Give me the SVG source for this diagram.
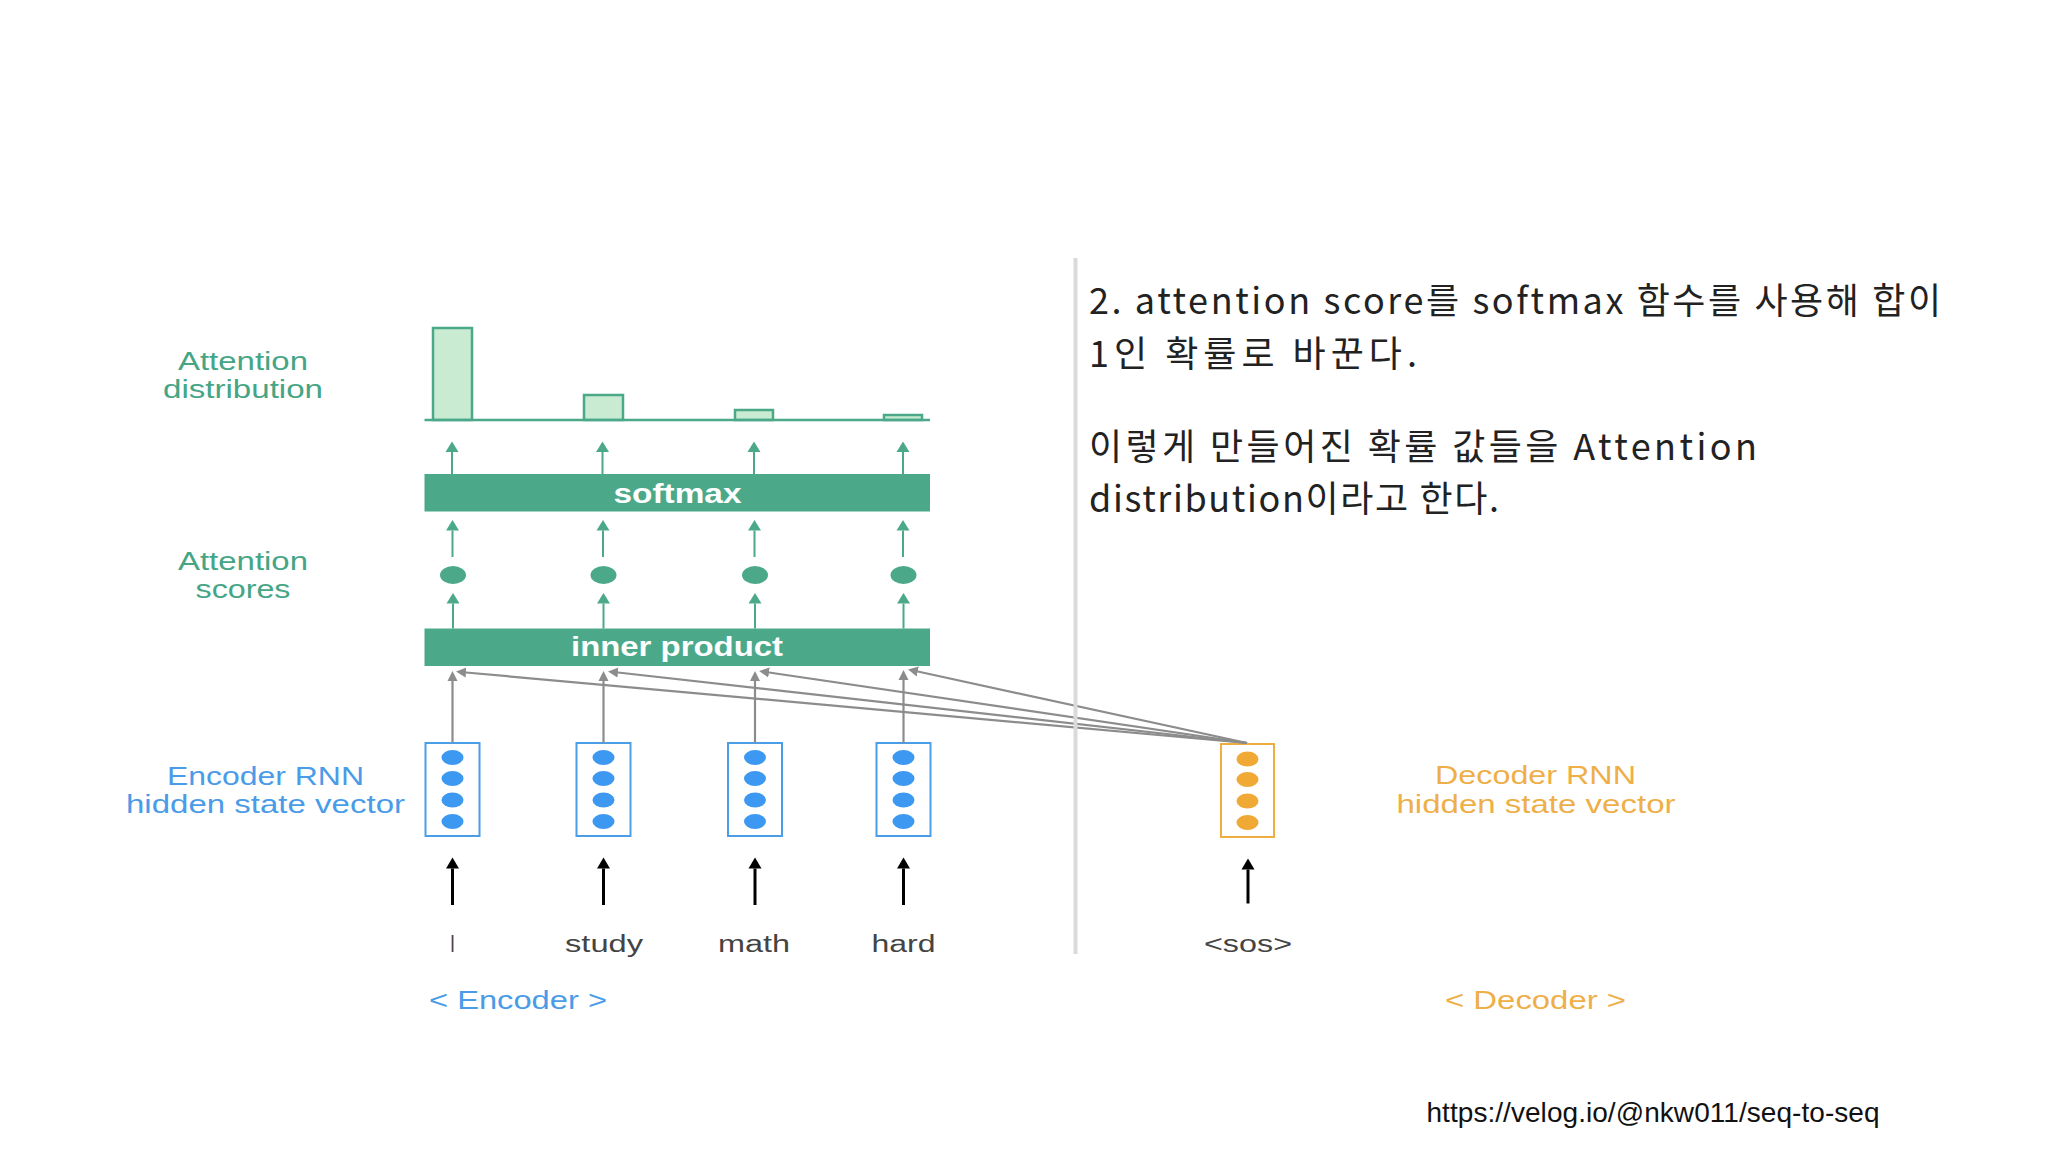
<svg xmlns="http://www.w3.org/2000/svg" width="2048" height="1152" viewBox="0 0 2048 1152">
<defs>
<style>
.lab{font-family:"Liberation Sans",Arial,sans-serif;text-anchor:middle}
.teal{fill:#45A584;font-size:25px}
.blue{fill:#4A9BE8;font-size:25px}
.orange{fill:#EFAF48;font-size:25px}
.word{fill:#444444;font-size:23px}
.band{fill:#4BA98A}
.bandtxt{font-family:"Liberation Sans",Arial,sans-serif;font-weight:bold;font-size:27px;fill:#ffffff;text-anchor:middle}
.bar{fill:#C8EBD2;stroke:#4BA98A;stroke-width:2.5}
.garrow{stroke:#4BA98A;stroke-width:2;fill:none;marker-end:url(#mg)}
.karrow{stroke:#000;stroke-width:3;fill:none;marker-end:url(#mk)}
.gray{stroke:#8C8C8C;stroke-width:2.2;fill:none;marker-end:url(#mgr)}
.ebox{fill:#fff;stroke:#4A9EE8;stroke-width:2}
.edot{fill:#3C98F0}
.dbox{fill:#fff;stroke:#EFAE42;stroke-width:2}
.ddot{fill:#F0A935}
.sdot{fill:#4BA98A}
.kr{font-family:"Noto Sans CJK KR","Noto Sans",sans-serif;font-size:36px;fill:#222222}
</style>
<marker id="mg" markerUnits="userSpaceOnUse" markerWidth="12" markerHeight="14" refX="0" refY="7" orient="auto"><path d="M0,0.5 L10.5,7 L0,13.5 z" fill="#4BA98A"/></marker>
<marker id="mk" markerUnits="userSpaceOnUse" markerWidth="12" markerHeight="14" refX="0" refY="7" orient="auto"><path d="M0,0.5 L11,7 L0,13.5 z" fill="#000"/></marker>
<marker id="mgr" markerUnits="userSpaceOnUse" markerWidth="12" markerHeight="12" refX="0" refY="6" orient="auto"><path d="M0,1 L10,6 L0,11 z" fill="#8C8C8C"/></marker>
</defs>
<rect width="2048" height="1152" fill="#ffffff"/>

<g id="left-labels">
<text class="lab teal" x="243" y="369.5" textLength="130" lengthAdjust="spacingAndGlyphs">Attention</text>
<text class="lab teal" x="243" y="398" textLength="160" lengthAdjust="spacingAndGlyphs">distribution</text>
<text class="lab teal" x="243" y="569.5" textLength="130" lengthAdjust="spacingAndGlyphs">Attention</text>
<text class="lab teal" x="243" y="598" textLength="95" lengthAdjust="spacingAndGlyphs">scores</text>
<text class="lab blue" x="265.5" y="784.5" textLength="197" lengthAdjust="spacingAndGlyphs">Encoder RNN</text>
<text class="lab blue" x="265.5" y="813" textLength="279" lengthAdjust="spacingAndGlyphs">hidden state vector</text>
</g>

<g id="attention-distribution">
<rect class="bar" x="433" y="328" width="39" height="92"/>
<rect class="bar" x="584" y="395" width="39" height="25"/>
<rect class="bar" x="735" y="410" width="38" height="10"/>
<rect class="bar" x="884" y="415" width="38" height="5"/>
<line x1="424.5" y1="420" x2="930" y2="420" stroke="#4BA98A" stroke-width="2.5"/>
</g>

<g id="softmax">
<rect class="band" x="424.5" y="474" width="505.5" height="37.5"/>
<text class="bandtxt" x="677.5" y="503" textLength="128" lengthAdjust="spacingAndGlyphs">softmax</text>
</g>

<g id="attention-scores">
<ellipse class="sdot" cx="453" cy="575" rx="13" ry="9"/>
<ellipse class="sdot" cx="603.5" cy="575" rx="13" ry="9"/>
<ellipse class="sdot" cx="755" cy="575" rx="13" ry="9"/>
<ellipse class="sdot" cx="903.5" cy="575" rx="13" ry="9"/>
</g>

<g id="inner-product">
<rect class="band" x="424.5" y="628.5" width="505.5" height="37.5"/>
<text class="bandtxt" x="677" y="656" textLength="212" lengthAdjust="spacingAndGlyphs">inner product</text>
</g>

<g id="encoder-I">
<rect class="ebox" x="425.5" y="743" width="54" height="93"/>
<ellipse class="edot" cx="452.5" cy="757.5" rx="11" ry="7.5"/>
<ellipse class="edot" cx="452.5" cy="778.5" rx="11" ry="7.5"/>
<ellipse class="edot" cx="452.5" cy="800" rx="11" ry="7.5"/>
<ellipse class="edot" cx="452.5" cy="821.5" rx="11" ry="7.5"/>
</g>
<g id="encoder-study">
<rect class="ebox" x="576.5" y="743" width="54" height="93"/>
<ellipse class="edot" cx="603.5" cy="757.5" rx="11" ry="7.5"/>
<ellipse class="edot" cx="603.5" cy="778.5" rx="11" ry="7.5"/>
<ellipse class="edot" cx="603.5" cy="800" rx="11" ry="7.5"/>
<ellipse class="edot" cx="603.5" cy="821.5" rx="11" ry="7.5"/>
</g>
<g id="encoder-math">
<rect class="ebox" x="728" y="743" width="54" height="93"/>
<ellipse class="edot" cx="755" cy="757.5" rx="11" ry="7.5"/>
<ellipse class="edot" cx="755" cy="778.5" rx="11" ry="7.5"/>
<ellipse class="edot" cx="755" cy="800" rx="11" ry="7.5"/>
<ellipse class="edot" cx="755" cy="821.5" rx="11" ry="7.5"/>
</g>
<g id="encoder-hard">
<rect class="ebox" x="876.5" y="743" width="54" height="93"/>
<ellipse class="edot" cx="903.5" cy="757.5" rx="11" ry="7.5"/>
<ellipse class="edot" cx="903.5" cy="778.5" rx="11" ry="7.5"/>
<ellipse class="edot" cx="903.5" cy="800" rx="11" ry="7.5"/>
<ellipse class="edot" cx="903.5" cy="821.5" rx="11" ry="7.5"/>
</g>

<g id="decoder-sos">
<rect class="dbox" x="1221" y="744" width="53" height="93"/>
<ellipse class="ddot" cx="1247.5" cy="759" rx="11" ry="7.5"/>
<ellipse class="ddot" cx="1247.5" cy="779.5" rx="11" ry="7.5"/>
<ellipse class="ddot" cx="1247.5" cy="801" rx="11" ry="7.5"/>
<ellipse class="ddot" cx="1247.5" cy="822.5" rx="11" ry="7.5"/>
</g>

<g id="words">
<text class="lab word" x="452.5" y="952" textLength="5" lengthAdjust="spacingAndGlyphs">I</text>
<text class="lab word" x="604" y="952" textLength="78" lengthAdjust="spacingAndGlyphs">study</text>
<text class="lab word" x="754" y="952" textLength="72" lengthAdjust="spacingAndGlyphs">math</text>
<text class="lab word" x="903.5" y="952" textLength="64" lengthAdjust="spacingAndGlyphs">hard</text>
<text class="lab word" x="1248" y="952" textLength="88" lengthAdjust="spacingAndGlyphs">&lt;sos&gt;</text>
</g>

<g id="section-labels">
<text class="lab blue" x="518" y="1008.5" textLength="178" lengthAdjust="spacingAndGlyphs">&lt; Encoder &gt;</text>
<text class="lab orange" x="1535.5" y="784" textLength="201" lengthAdjust="spacingAndGlyphs">Decoder RNN</text>
<text class="lab orange" x="1536" y="813" textLength="279" lengthAdjust="spacingAndGlyphs">hidden state vector</text>
<text class="lab orange" x="1535.5" y="1008.5" textLength="181" lengthAdjust="spacingAndGlyphs">&lt; Decoder &gt;</text>
</g>

<g id="connectors">
<line class="garrow" x1="452" y1="474" x2="452" y2="452"/>
<line class="garrow" x1="602.5" y1="474" x2="602.5" y2="452"/>
<line class="garrow" x1="754" y1="474" x2="754" y2="452"/>
<line class="garrow" x1="903" y1="474" x2="903" y2="452"/>
<line class="garrow" x1="452.5" y1="557" x2="452.5" y2="530.5"/>
<line class="garrow" x1="603" y1="557" x2="603" y2="530.5"/>
<line class="garrow" x1="754.5" y1="557" x2="754.5" y2="530.5"/>
<line class="garrow" x1="903" y1="557" x2="903" y2="530.5"/>
<line class="garrow" x1="453" y1="628.5" x2="453" y2="603.5"/>
<line class="garrow" x1="603.5" y1="628.5" x2="603.5" y2="603.5"/>
<line class="garrow" x1="755" y1="628.5" x2="755" y2="603.5"/>
<line class="garrow" x1="903.5" y1="628.5" x2="903.5" y2="603.5"/>
<line class="gray" x1="452.5" y1="743" x2="452.5" y2="681"/>
<line class="gray" x1="603.5" y1="743" x2="603.5" y2="681"/>
<line class="gray" x1="755" y1="743" x2="755" y2="681"/>
<line class="gray" x1="903.5" y1="743" x2="903.5" y2="680"/>
<line class="gray" x1="1247" y1="743" x2="466" y2="672.5"/>
<line class="gray" x1="1247" y1="743" x2="618" y2="672.5"/>
<line class="gray" x1="1247" y1="743" x2="769" y2="672.5"/>
<line class="gray" x1="1247" y1="743" x2="917.8" y2="671.5"/>
<line class="karrow" x1="452.5" y1="905" x2="452.5" y2="868.5"/>
<line class="karrow" x1="603.5" y1="905" x2="603.5" y2="868.5"/>
<line class="karrow" x1="755" y1="905" x2="755" y2="868.5"/>
<line class="karrow" x1="903.5" y1="905" x2="903.5" y2="868.5"/>
<line class="karrow" x1="1248" y1="903.5" x2="1248" y2="869.5"/>
</g>

<line id="divider" x1="1075.5" y1="258" x2="1075.5" y2="954" stroke="#DADADA" stroke-width="4"/>

<g id="explanation">
<text class="kr" x="1089" y="314" textLength="852">2. attention score를 softmax 함수를 사용해 합이</text>
<text class="kr" x="1089" y="367" textLength="328">1인 확률로 바꾼다.</text>
<text class="kr" x="1089" y="460" textLength="668">이렇게 만들어진 확률 값들을 Attention</text>
<text class="kr" x="1089" y="512" textLength="410">distribution이라고 한다.</text>
</g>

<text id="source" x="1426.5" y="1122" font-family="Liberation Sans, Arial, sans-serif" font-size="28" fill="#111111" textLength="453">https://velog.io/@nkw011/seq-to-seq</text>
</svg>
